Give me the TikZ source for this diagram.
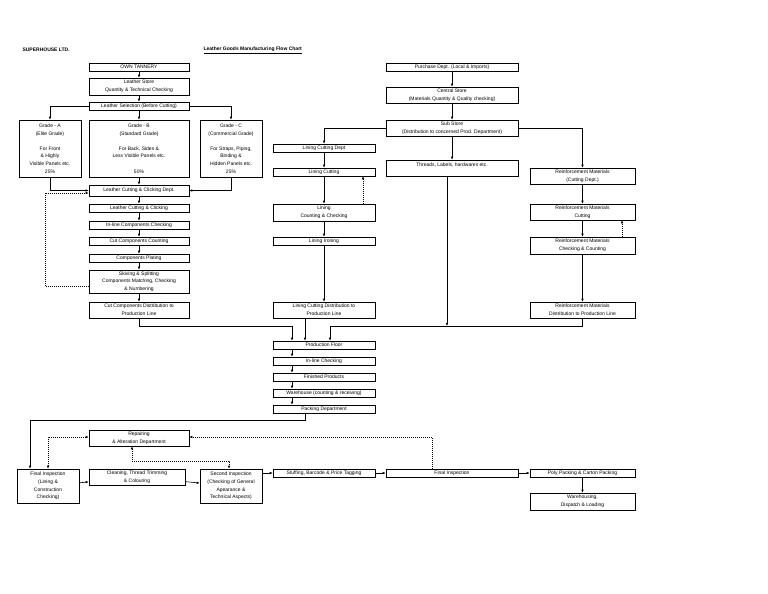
\documentclass[tikz,border=0pt]{standalone}
\usepackage{fontspec}
\setmainfont{Liberation Sans}
\usetikzlibrary{arrows.meta,shadows}
\tikzset{
 bx/.style={draw,line width=0.6pt,fill=white,inner sep=0pt,align=center,font=\fontsize{5}{7.6}\selectfont,
   drop shadow={shadow xshift=1.2pt,shadow yshift=-1.2pt,fill=black,opacity=1}},
 ar/.style={-{Latex[length=3pt,width=2.6pt]},line width=0.6pt},
 ln/.style={line width=0.6pt},
 dt/.style={densely dotted,line width=1pt},
 dta/.style={dt,{Latex[length=3pt,width=2.6pt]}-{Latex[length=3pt,width=2.6pt]}},
 dtr/.style={dt,-{Latex[length=3pt,width=2.6pt]}}
}
\newcommand{\bx}[6]{\node[bx,minimum width=#4pt-#2pt,minimum height=#5pt-#3pt] (#1) at ({(#2+#4)/2},{(#3+#5)/2}) {#6};}
\begin{document}
\begin{tikzpicture}[x=1pt,y=-1pt]
\useasboundingbox (0,0) rectangle (768,594);
\node[anchor=west,font=\fontsize{5}{6}\selectfont\bfseries] (t1) at (19,50) {SUPERHOUSE LTD.};
\node[anchor=west,font=\fontsize{5}{6}\selectfont\bfseries] (t2) at (200,50) {\underline{Leather Goods Manufacturing Flow Chart}};
% left column
\bx{tan}{89}{63}{189}{71}{OWN TANNERY}
\bx{ls}{89}{78}{189}{95}{Leather Store\\Quantity \& Technical Checking}
\bx{sel}{89}{102}{189}{110}{Leather Selection (Before Cutting)}
\bx{ga}{19}{120}{81}{177}{Grade - A\\(Elite Grade)\\[7.6pt]For Front\\\& Highly\\Visible Panels etc.\\25\%}
\bx{gb}{89}{120}{189}{177}{Grade - B\\(Standard Grade)\\[7.6pt]For Back, Sides \&\\Less Visible Panels etc.\\[7.6pt]50\%}
\bx{gc}{200}{120}{262}{177}{Grade - C\\(Commercial Grade)\\[7.6pt]For Straps, Piping,\\Binding \&\\Hidden Panels etc.\\25\%}
\bx{lcd}{89}{185}{189}{196}{Leather Cutting \& Clicking Dept.}
\bx{lcc}{89}{204}{189}{212}{Leather Cutting \& Clicking}
\bx{icc}{89}{221}{189}{229}{In-line Components Checking}
\bx{ccc}{89}{237}{189}{245}{Cut Components Counting}
\bx{cp}{89}{254}{189}{262}{Components Plating}
\bx{sk}{89}{270}{189}{293}{Skiving \& Splitting\\Components Matching, Checking\\\& Numbering}
\bx{ccd}{89}{302}{189}{318}{Cut Components Distribution to\\Production Line}
% lining
\bx{lcdp}{273}{144}{375}{152}{Lining Cutting Dept}
\bx{lc}{273}{168}{375}{176}{Lining Cutting}
\bx{lcnt}{273}{204}{375}{221}{Lining\\Counting \& Checking}
\bx{li}{273}{237}{375}{245}{Lining Ironing}
\bx{lid}{273}{302}{375}{318}{Lining Cutting Distribution to\\Production Line}
% right
\bx{pd}{386}{63}{518}{71}{Purchase Dept. (Local \& Imports)}
\bx{cs}{386}{87}{518}{103}{Central Store\\(Materials Quantity \& Quality checking)}
\bx{ss}{386}{120}{518}{136}{Sub Store\\(Distribution to concerned Prod. Department)}
\bx{th}{386}{160}{518}{176}{}
\node[anchor=north,font=\fontsize{5}{7.6}\selectfont] (thl) at (th.north) {Threads, Labels, hardwares etc.};
\bx{rc}{530}{168}{635}{184}{Reinforcement Materials\\(Cutting Dept.)}
\bx{rcu}{530}{204}{635}{220}{Reinforcement Materials\\Cutting}
\bx{rch}{530}{237}{635}{254}{Reinforcement Materials\\Checking \& Counting}
\bx{rd}{530}{302}{635}{318}{Reinforcement Materials\\Distribution to Production Line}
% production
\bx{pf}{273}{341}{375}{349}{Production Floor}
\bx{ic}{273}{357}{375}{365}{In-line Checking}
\bx{fp}{273}{373}{375}{381}{Finished Products}
\bx{wh}{273}{389}{375}{397}{Warehouse (counting \& receiving)}
\bx{pk}{273}{405}{375}{413}{Packing Department}
% bottom
\bx{rep}{89}{430}{189}{446}{Repairing\\\& Alteration Department}
\bx{fil}{17}{469}{79}{503}{Final Inspection\\(Lining \&\\Construction\\Checking)}
\bx{cl}{89}{469}{185}{485}{Cleaning, Thread Trimming\\\& Colouring}
\bx{si}{200}{469}{262}{503}{Second Inspection\\(Checking of General\\Apearance \&\\Technical Aspects)}
\bx{st}{273}{469}{375}{477}{Stuffing, Barcode \& Price Tagging}
\bx{fi}{386}{469}{518}{477}{Final Inspection}
\bx{pp}{530}{469}{635}{477}{Poly Packing \& Carton Packing}
\bx{wd}{530}{493}{635}{510}{Warehousing,\\Dispatch \& Loading}
% left column arrows
\draw[ar] (tan) -- (ls);
\draw[ar] (ls) -- (sel);
\draw[ar] (sel.west) -| (ga.north);
\draw[ar] (sel) -- (gb);
\draw[ar] (sel.east) -| (gc.north);
\draw[ar] (gb) -- (lcd);
\draw[ar] (ga.south) |- (lcd.west);
\draw[ar] (gc.south) |- (lcd.east);
\draw[ar] (lcd) -- (lcc);
\draw[ar] (lcc) -- (icc);
\draw[ar] (icc) -- (ccc);
\draw[ar] (ccc) -- (cp);
\draw[ar] (cp) -- (sk);
\draw[ar] (sk) -- (ccd);
\coordinate (d1) at (45,286);
\coordinate (d2) at (45,193);
\draw[dtr] (sk.west |- d1) -- (d1) -- (d2) -- (lcd.west |- d2);
% lining arrows
\draw[ar] (ss.west) -| (lcdp.north);
\draw[ar] (lcdp) -- (lc);
\draw[ar] (lc) -- (lcnt);
\draw[ar] (lcnt) -- (li);
\draw[ar] (li) -- (lid);
\draw[dtr] (lcnt.north -| 363,0) -- (lc.south -| 363,0);
% right arrows
\draw[ar] (pd) -- (cs);
\draw[ar] (cs) -- (ss);
\draw[ar] (ss) -- (th);
\draw[ar] (ss.east) -| (rc.north);
\draw[ar] (rc) -- (rcu);
\draw[ar] (rcu) -- (rch);
\draw[ar] (rch) -- (rd);
\draw[dtr] (rch.north -| 622,0) -- (rcu.south -| 622,0);
% into production floor
\coordinate (j1) at (292,326);
\coordinate (j2) at (330,326);
\coordinate (j3) at (447,326);
\draw[ar] (ccd.south) |- (j1) -- (pf.north -| j1);
\draw[ar] (lid.south -| 305,0) -- (pf.north -| 305,0);
\draw[ar] (rd.south) |- (j2) -- (pf.north -| j2);
\draw[ar] (th.south -| j3) -- (j3);
\draw[ar] (pf.south -| 292,0) -- (ic.north -| 292,0);
\draw[ar] (ic.south -| 292,0) -- (fp.north -| 292,0);
\draw[ar] (fp.south -| 292,0) -- (wh.north -| 292,0);
\draw[ar] (wh.south -| 292,0) -- (pk.north -| 292,0);
\coordinate (k1) at (305,420);
\coordinate (k2) at (30,420);
\draw[ar] (pk.south -| k1) -- (k1) -- (k2) -- (fil.north -| k2);
% bottom row
\draw[ar] (fil) -- (cl);
\draw[ar] (cl) -- (si);
\draw[ar] (si.east |- st) -- (st);
\draw[ar] (st) -- (fi);
\draw[ar] (fi) -- (pp);
\draw[ar] (pp) -- (wd);
\coordinate (r1) at (48,437);
\draw[dta] (fil.north -| r1) -- (r1) -- (rep.west |- r1);
\coordinate (r2) at (132,461);
\coordinate (r3) at (229,461);
\draw[dta] (rep.south -| r2) -- (r2) -- (r3) -- (si.north -| r3);
\coordinate (r4) at (432,437);
\draw[dtr] (fi.north -| r4) -- (r4) -- (rep.east |- r4);
\end{tikzpicture}
\end{document}
